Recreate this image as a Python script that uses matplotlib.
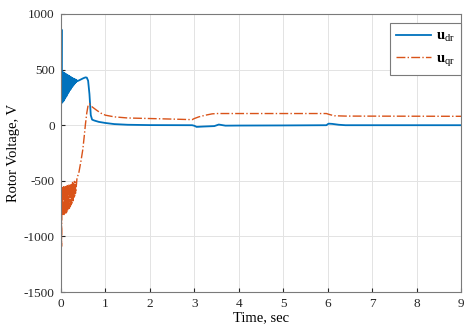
import matplotlib
matplotlib.use("Agg")
import matplotlib.pyplot as plt

plt.rcParams['font.family'] = ['Liberation Serif', 'DejaVu Serif']
plt.rcParams['mathtext.fontset'] = 'custom'
plt.rcParams['mathtext.rm'] = 'Liberation Serif'
plt.rcParams['mathtext.bf'] = 'Liberation Serif:bold'
plt.rcParams['axes.unicode_minus'] = False

# rotor d-axis voltage (time in s, value in V)
t_dr = [0.0, 0.012, 0.018,
        0.022, 0.03, 0.04, 0.05, 0.06, 0.07, 0.08, 0.09, 0.10,
        0.11, 0.12, 0.13, 0.14, 0.15, 0.16, 0.17, 0.18, 0.19, 0.20,
        0.21, 0.22, 0.23, 0.24, 0.25, 0.26, 0.27, 0.28, 0.29, 0.30,
        0.31, 0.32, 0.33, 0.34, 0.35, 0.36,
        0.40, 0.45, 0.50, 0.55, 0.58, 0.61, 0.64, 0.67, 0.70, 0.75,
        0.85, 1.0, 1.2, 1.5, 2.0, 2.95, 3.0, 3.05, 3.2, 3.45, 3.55,
        3.7, 4.0, 5.0, 5.97, 6.02, 6.1, 6.25, 6.4, 7.0, 9.0]
u_dr = [0, 860, 200,
        470, 480, 210, 475, 220, 470, 235, 465, 250,
        460, 260, 455, 275, 450, 290, 445, 300, 440, 315,
        435, 325, 430, 340, 425, 350, 420, 360, 418, 370,
        412, 380, 410, 388, 405, 395,
        402, 412, 422, 430, 428, 400, 280, 90, 50, 42,
        30, 20, 10, 4, 1, 0, -5, -15, -12, -8, 6,
        -4, -3, -2, 0, 14, 12, 4, 0, 0, 0]

# rotor q-axis voltage
t_qr = [0.0, 0.012, 0.018,
        0.022, 0.03, 0.04, 0.05, 0.06, 0.07, 0.08, 0.09, 0.10,
        0.11, 0.12, 0.13, 0.14, 0.15, 0.16, 0.17, 0.18, 0.19, 0.20,
        0.21, 0.22, 0.23, 0.24, 0.25, 0.26, 0.27, 0.28, 0.29, 0.30,
        0.31, 0.32, 0.33,
        0.36, 0.40, 0.45, 0.49, 0.52, 0.55, 0.58, 0.61, 0.64, 0.70,
        0.80, 0.90, 1.0, 1.2, 1.5, 2.0, 2.5, 2.95, 3.0, 3.1, 3.25,
        3.4, 3.5, 5.97, 6.05, 6.15, 6.4, 9.0]
u_qr = [0, -1090, -700,
        -560, -800, -550, -815, -545, -810, -560, -800, -540,
        -790, -555, -780, -535, -770, -550, -760, -530, -745, -545,
        -730, -525, -715, -535, -700, -515, -680, -520, -660, -505,
        -640, -510, -610,
        -475, -430, -320, -220, -110, 10, 110, 180, 192, 165,
        135, 108, 90, 75, 65, 60, 55, 50, 60, 75, 90,
        102, 105, 105, 95, 85, 82, 80]

fig = plt.figure(figsize=(4.74, 3.33), dpi=100)
ax = fig.add_axes([0.1287, 0.123, 0.8439, 0.835])

ax.plot(t_dr, u_dr, color='#0072BD', lw=1.3, label=r'$\mathbf{u}_{\mathrm{dr}}$')
ax.plot(t_qr, u_qr, color='#D95319', lw=1.0, linestyle='-.',
        label=r'$\mathbf{u}_{\mathrm{qr}}$')

ax.set_xlim(0, 9)
ax.set_ylim(-1500, 1000)
ax.set_xticks(range(0, 10))
ax.set_yticks(range(-1500, 1001, 500))
ax.grid(True, color='#e3e3e3', lw=0.7)
ax.set_axisbelow(True)
ax.tick_params(direction='in', length=3, labelsize=9.5, colors='#262626', pad=4.5)
for s in ax.spines.values():
    s.set_color('#7a7a7a')
    s.set_linewidth(0.8)

ax.set_xlabel('Time, sec', fontsize=10.5, labelpad=1)
ax.set_ylabel('Rotor Voltage, V', fontsize=10.5, labelpad=3)

leg = ax.legend(loc='upper right', bbox_to_anchor=(1.0, 0.968), borderaxespad=0,
                fontsize=10.5, fancybox=False, framealpha=1, edgecolor='#7a7a7a',
                handlelength=2.4, handletextpad=0.3, borderpad=0.45,
                labelspacing=0.5)
leg.get_frame().set_linewidth(0.8)

fig.savefig('out.png', dpi=100)
